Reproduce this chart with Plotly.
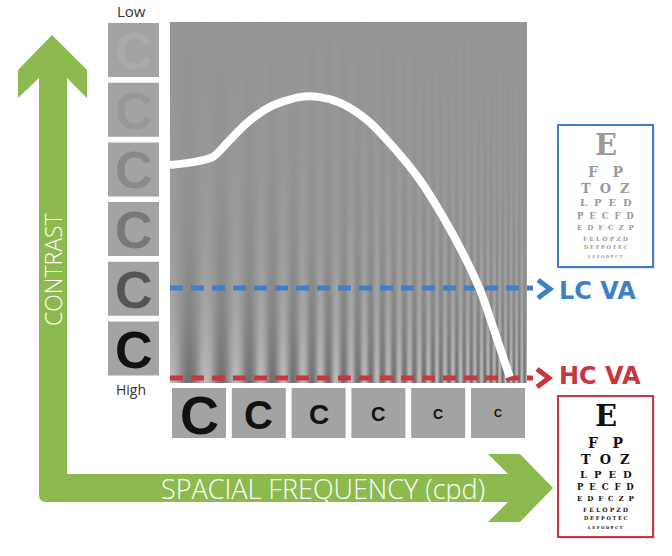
import numpy as np
import plotly.graph_objects as go

W, H = 672, 556

# ---------------- data ----------------
freq_x = [0, 3.9, 7.2, 9.6, 12.9, 16.8, 21.8, 25.2, 28.6, 33.1, 37.5, 42.0, 45.9, 49.2, 52.1, 54.3, 57.1]
csf_y = [60.4, 61.2, 62.6, 66.5, 72.0, 76.5, 79.2, 79.2, 77.6, 72.9, 65.4, 56.2, 46.0, 36.0, 25.8, 15.5, 1.7]

va_labels = ["LC VA", "HC VA"]
va_levels = [26.3, 1.4]
va_line_end = 61.0

contrast_labels = ["Low", "High"]
contrast_letter_gray = [170, 152, 138, 120, 85, 17]      # luminance of the "C" in each contrast step
size_letter_px = [54, 40, 28, 20, 14, 11]                  # optotype size for each frequency step
chart_rows = ["E", "F P", "T O Z", "L P E D", "P E C F D", "E D F C Z P",
              "F E L O P Z D", "D E F P O T E C", "L E F O D P C T"]
axis_titles = ["CONTRAST", "SPACIAL FREQUENCY (cpd)"]

# ---------------- styles ----------------
GREEN = "#8dba4e"
BLUE = "#3f7fc6"
RED = "#c8363f"
SQUARE = "#a3a3a3"
XSCALE = 357 / 60.0   # px per x unit
YSCALE = 361 / 100.0  # px per y unit
NB = "\u00a0"


def X(px):
    return px / W


def Y(py):
    return 1 - py / H


def path(points, close=True):
    s = "M " + " L ".join(f"{X(a):.5f},{Y(b):.5f}" for a, b in points)
    return s + (" Z" if close else "")


fig = go.Figure()

# Campbell-Robson style grating texture (background stimulus)
nx, ny = 720, 80
ex = np.linspace(0, 60, nx + 1)
ey = np.linspace(0, 100, ny + 1)
gx = (ex[:-1] + ex[1:]) / 2
gy = (ey[:-1] + ey[1:]) / 2
pxx = gx * XSCALE
p0, p1 = 40.0, 5.0
r = np.log(p0 / p1) / 357
phase = 2 * np.pi * (np.exp(r * pxx) - 1) / (p0 * r)
amp = 0.15 * np.exp(-gy / 24)
z = 0.585 + amp[:, None] * np.cos(phase)[None, :]
fig.add_trace(go.Heatmap(x=gx, y=gy, z=z, zmin=0, zmax=1, zsmooth="best",
                         colorscale=[[0, "rgb(0,0,0)"], [1, "rgb(255,255,255)"]],
                         showscale=False, hoverinfo="skip"))

# VA dashed lines
for lvl, col in zip(va_levels, [BLUE, RED]):
    fig.add_trace(go.Scatter(x=[0, va_line_end], y=[lvl, lvl], mode="lines",
                             line=dict(color=col, width=5, dash="13px,8px"),
                             hoverinfo="skip", showlegend=False))

# CSF curve
fig.add_trace(go.Scatter(x=freq_x, y=csf_y, mode="lines",
                         line=dict(color="white", width=8, shape="spline", smoothing=0.8),
                         hoverinfo="skip", showlegend=False))

shapes = []
ann = []

# green arrows
arrow_pts = [(52, 35), (87, 70), (87, 98), (67, 78), (67, 474), (508, 474), (488, 454),
             (520, 454), (553, 488), (520, 522), (488, 522), (508, 502), (46, 502)]
p = "M " + " L ".join(f"{X(a):.5f},{Y(b):.5f}" for a, b in arrow_pts)
p += f" Q {X(39):.5f},{Y(502):.5f} {X(39):.5f},{Y(495):.5f}"
p += " L " + " L ".join(f"{X(a):.5f},{Y(b):.5f}" for a, b in [(39, 78), (18, 98), (18, 70)]) + " Z"
shapes.append(dict(type="path", xref="paper", yref="paper", path=p,
                   fillcolor=GREEN, line=dict(width=0), layer="below"))

# left column of contrast squares
for i, g in enumerate(contrast_letter_gray):
    y0 = 23 + i * 59.7
    shapes.append(dict(type="rect", xref="paper", yref="paper", x0=X(108), x1=X(159),
                       y0=Y(y0), y1=Y(y0 + 54), fillcolor=SQUARE, line=dict(width=0)))
    ann.append(dict(x=X(133.5), y=Y(y0 + 27), xref="paper", yref="paper", text="C",
                    showarrow=False, xanchor="center", yanchor="middle", yshift=-1,
                    font=dict(family="Liberation Sans", size=52, weight="bold",
                              color=f"rgb({g},{g},{g})")))

# bottom row of size squares
for i, s in enumerate(size_letter_px):
    x0 = 172 + i * 59.8
    shapes.append(dict(type="rect", xref="paper", yref="paper", x0=X(x0), x1=X(x0 + 54),
                       y0=Y(388), y1=Y(438), fillcolor=SQUARE, line=dict(width=0)))
    ann.append(dict(x=X(x0 + 27), y=Y(413), xref="paper", yref="paper", text="C",
                    showarrow=False, xanchor="center", yanchor="middle", yshift=-s * 0.04,
                    font=dict(family="Liberation Sans", size=s, weight="bold", color="#111111")))

# chevrons at the end of the VA lines
shapes.append(dict(type="path", xref="paper", yref="paper",
                   path=path([(538, 280), (550, 289), (538, 298)], close=False),
                   line=dict(color=BLUE, width=5)))
shapes.append(dict(type="path", xref="paper", yref="paper",
                   path=path([(537, 369), (549, 378), (537, 387)], close=False),
                   line=dict(color=RED, width=5)))

ann.append(dict(x=X(557), y=Y(291), xref="paper", yref="paper", text=va_labels[0],
                showarrow=False, xanchor="left", yanchor="middle",
                font=dict(family="DejaVu Sans", size=24, weight="bold", color=BLUE)))
ann.append(dict(x=X(557), y=Y(376), xref="paper", yref="paper", text=va_labels[1],
                showarrow=False, xanchor="left", yanchor="middle",
                font=dict(family="DejaVu Sans", size=24, weight="bold", color=RED)))

# eye charts
row_off = [20, 47, 63, 78, 91, 102, 113, 122, 131]
row_size = [29, 14, 13, 10, 8.5, 7, 6, 5, 4]
row_gap = [1, 3, 2, 2, 2, 2, 1, 1, 1]   # spacing between letters (in blanks)
for top, bot, col, txtcol in [(125, 267, BLUE, "#9a9a9a"), (396, 537, RED, "#111111")]:
    shapes.append(dict(type="rect", xref="paper", yref="paper", x0=X(560), x1=X(655),
                       y0=Y(top + 2), y1=Y(bot + 2), fillcolor="#e2e2e2", line=dict(width=0)))
    shapes.append(dict(type="rect", xref="paper", yref="paper", x0=X(558), x1=X(653),
                       y0=Y(top), y1=Y(bot), fillcolor="white", line=dict(color=col, width=2)))
    for t, o, s, gap in zip(chart_rows, row_off, row_size, row_gap):
        ann.append(dict(x=X(605.5), y=Y(top + o), xref="paper", yref="paper",
                        text=t.replace(" ", NB * gap),
                        showarrow=False, xanchor="center", yanchor="middle",
                        font=dict(family="DejaVu Serif", size=s, weight="bold", color=txtcol)))

# axis titles on arrows
ann.append(dict(x=X(53), y=Y(270), xref="paper", yref="paper", text=axis_titles[0],
                showarrow=False, textangle=-90, xanchor="center", yanchor="middle",
                font=dict(family="Open Sans", size=23, weight=300, color="white")))
ann.append(dict(x=X(323), y=Y(488), xref="paper", yref="paper", text=axis_titles[1],
                showarrow=False, xanchor="center", yanchor="middle",
                font=dict(family="Open Sans", size=27, weight=300, color="white")))

# Low / High
ann.append(dict(x=X(131), y=Y(11), xref="paper", yref="paper", text=contrast_labels[0],
                showarrow=False, xanchor="center", yanchor="middle", borderpad=0,
                font=dict(family="Open Sans", size=15, color="#333333")))
ann.append(dict(x=X(131), y=Y(389), xref="paper", yref="paper", text=contrast_labels[1],
                showarrow=False, xanchor="center", yanchor="middle", borderpad=0,
                font=dict(family="Open Sans", size=14, color="#333333")))

fig.update_layout(
    width=W, height=H, margin=dict(l=0, r=0, t=0, b=0),
    paper_bgcolor="white", plot_bgcolor="rgba(0,0,0,0)",
    showlegend=False, shapes=shapes, annotations=ann,
    xaxis=dict(domain=[X(170), X(170 + 62.5 * XSCALE)], range=[0, 62.5], visible=False, fixedrange=True),
    yaxis=dict(domain=[Y(383 + 3 * YSCALE), Y(22)], range=[-3, 100], visible=False, fixedrange=True),
)

# remove the default 8px page margin so the figure fills the window exactly
fig.write_html("out.html", config={"displayModeBar": False},
               post_script="document.body.style.margin='0';")
